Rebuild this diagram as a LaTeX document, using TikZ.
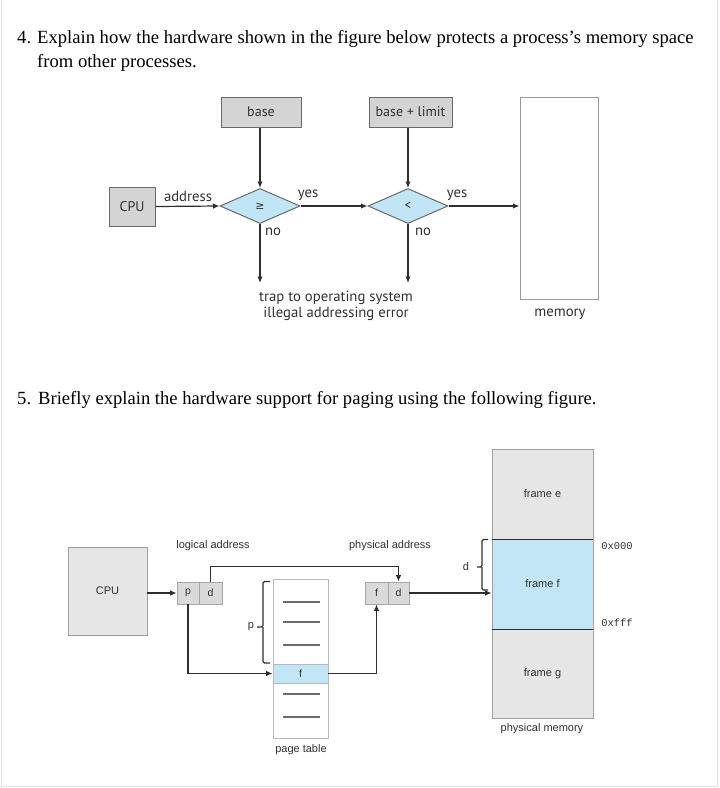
\documentclass[tikz,border=0pt]{standalone}
\usepackage{fontspec}
\setmainfont{Liberation Serif}
\newfontfamily\figa{PT Sans}
\newfontfamily\figb{Liberation Sans}
\newfontfamily\figmono{Liberation Mono}
\newfontfamily\symf{DejaVu Sans}
\usetikzlibrary{shapes.geometric,arrows.meta}
\definecolor{boxgray}{HTML}{D4D4D4}
\definecolor{boxedge}{HTML}{6A6A6A}
\definecolor{dblue}{HTML}{C2E5F6}
\definecolor{memgray}{HTML}{E6E6E6}
\definecolor{fblue}{HTML}{C3E6F7}
\definecolor{linec}{HTML}{2E2E2E}
\definecolor{txt}{HTML}{303030}
\tikzset{
  qtext/.style={anchor=base west,inner sep=0pt,font=\fontsize{18.6}{21}\selectfont},
  arr/.style={draw=linec,line width=1.2pt,-{Latex[length=6.5pt,width=5.5pt]}},
  gbox/.style={rectangle,draw=boxedge,fill=boxgray,line width=1pt,inner sep=0pt,font=\figa\fontsize{14}{16}\selectfont,text=txt},
  dia/.style={diamond,draw=boxedge,fill=dblue,line width=1pt,inner sep=0pt,minimum width=80pt,minimum height=35pt,text=txt},
  lab/.style={inner sep=0pt,font=\figa\fontsize{14.7}{17}\selectfont,text=txt},
  lbox/.style={rectangle,draw=gray!70,fill=boxgray!85,line width=0.8pt,inner sep=0pt,font=\figb\fontsize{10.5}{12}\selectfont,text=txt},
  slab/.style={inner sep=0pt,font=\figb\fontsize{11}{13}\selectfont,text=txt},
  mlab/.style={inner sep=0pt,font=\figmono\fontsize{10.5}{12}\selectfont,text=txt},
  frame/.style={rectangle,draw=gray!75,line width=0.8pt,inner sep=0pt,minimum width=101pt,font=\figb\fontsize{11}{13}\selectfont,text=txt},
  entry/.style={draw=gray!85!black,line width=1.1pt},
  brace/.style={draw=linec,line width=1.2pt,rounded corners=1.5pt}
}
\begin{document}
\begin{tikzpicture}[x=1pt,y=-1pt]
\useasboundingbox (0,0) rectangle (720,788);
\draw[gray!22,line width=1pt] (1.5,0) -- (1.5,786.5) -- (717.5,786.5) -- (717.5,0);

% ---- question texts
\node[qtext] (q4n) at (17,43) {4.};
\node[qtext] (q4a) at (37,43) {Explain how the hardware shown in the figure below protects a process’s memory space};
\node[qtext] (q4b) at (37,67) {from other processes.};
\node[qtext] (q5n) at (17,404) {5.};
\node[qtext] (q5a) at (38,404) {Briefly explain the hardware support for paging using the following figure.};

% ---- figure 1
\node[gbox,minimum width=46pt,minimum height=39pt] (cpu1) at (132,206.5) {CPU};
\node[gbox,minimum width=80pt,minimum height=30pt] (base) at (261,112) {base};
\node[gbox,minimum width=83pt,minimum height=30pt] (blim) at (410.5,112) {base + limit};
\node[dia] (d1) at (260,206) {\symf\fontsize{11}{12}\selectfont ≥};
\node[dia] (d2) at (408,206) {\figa\fontsize{13}{14}\selectfont <};
\node[rectangle,draw=gray!80,fill=white,line width=1pt,minimum width=78pt,minimum height=202pt] (mem1) at (559,198) {};
\coordinate (t1) at (260,283);
\coordinate (t2) at (408,283);

\draw[arr] (cpu1.east) -- (d1.west);
\draw[arr] (d1.north |- base.south) -- (d1.north);
\draw[arr] (d2.north |- blim.south) -- (d2.north);
\draw[arr] (d1.east) -- (d2.west);
\draw[arr] (d2.east) -- (mem1.west |- d2.east);
\draw[arr] (d1.south) -- (t1);
\draw[arr] (d2.south) -- (t2);

\node[lab] (laddr) at (188,196) {address};
\node[lab] (ly1) at (308,195) {yes};
\node[lab] (ly2) at (457,195) {yes};
\node[lab] (ln1) at (273,232) {no};
\node[lab] (ln2) at (423,232) {no};
\node[lab,align=center] (trap) at (336,305.5) {trap to operating system\\[-1pt]illegal addressing error};
\node[lab] (lmem) at (560,314) {memory};

% ---- figure 2
\node[rectangle,draw=gray!75,fill=memgray,line width=0.8pt,minimum width=79pt,minimum height=88pt,font=\figb\fontsize{11}{13}\selectfont,text=txt] (cpu2) at (107.5,591) {CPU};
\node[lbox,minimum width=22pt,minimum height=22pt] (pc) at (188,593) {p};
\node[lbox,minimum width=23pt,minimum height=22pt] (dc) at (210.5,593) {d};
\node[lbox,minimum width=23pt,minimum height=22pt] (fc) at (376.5,593) {f};
\node[lbox,minimum width=21pt,minimum height=22pt] (dc2) at (398.5,593) {d};

\node[rectangle,draw=gray!55,fill=white,line width=0.8pt,minimum width=55pt,minimum height=159pt] (pt) at (300.5,658.5) {};
\node[rectangle,draw=gray!55,fill=fblue,line width=0.8pt,minimum width=55pt,minimum height=19pt,font=\figb\fontsize{10.5}{12}\selectfont,text=txt] (frow) at (300.5,673.5) {f};
\foreach \yy in {602,622,645,694,717} \draw[entry] (283,\yy) -- (320,\yy);

\node[frame,fill=memgray,minimum height=90pt] (fe) at (542.5,494) {frame e};
\node[frame,fill=fblue,minimum height=90pt] (ff) at (542.5,584) {frame f};
\node[frame,fill=memgray,minimum height=89pt] (fg) at (542.5,673.5) {frame g};
\draw[draw=linec,line width=1pt] (fe.south west) -- (fe.south east);
\draw[draw=linec,line width=1pt] (ff.south west) -- (ff.south east);

\draw[arr] (cpu2.east |- pc.west) -- (pc.west);
\draw[arr] (dc.north) -- ++(0,-15) -| (dc2.north);
\draw[arr] (pc.south) |- (frow.west);
\draw[arr] (frow.east) -| (fc.south);
\draw[arr] (dc2.east) -- (ff.west |- dc2.east);

\draw[brace] (270,581.5) -- (263,581.5) -- (263,627) -- (257,627) (263,627) -- (263,663) -- (270,663);
\draw[brace] (488,539.5) -- (482,539.5) -- (482,567) -- (477,567) (482,567) -- (482,590) -- (488,590);

\node[slab] (lp) at (251,627) {p};
\node[slab] (ld) at (466,567) {d};
\node[slab] (llog) at (213,546) {logical address};
\node[slab] (lphys) at (390,546) {physical address};
\node[slab] (lpt) at (301,750) {page table};
\node[slab] (lpm) at (542,729) {physical memory};
\node[mlab] (l000) at (617,546) {0x000};
\node[mlab] (lfff) at (617,623) {0xfff};
\end{tikzpicture}
\end{document}
